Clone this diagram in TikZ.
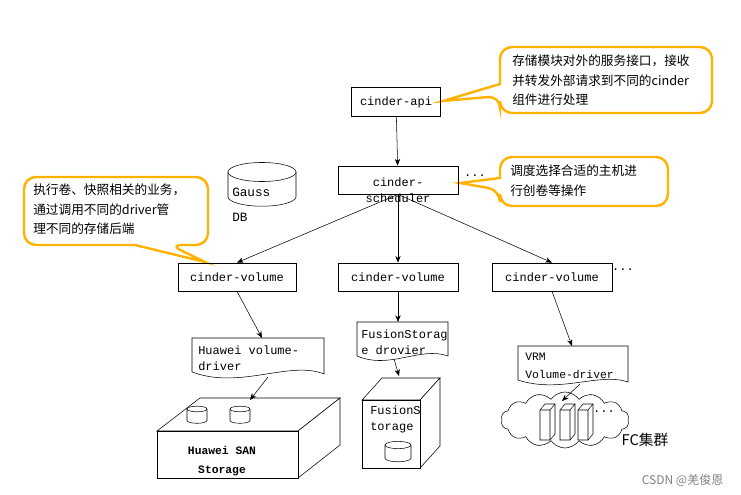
\documentclass[tikz,border=0pt]{standalone}
\usepackage{fontspec}
\setmainfont{Liberation Serif}
\setmonofont{Liberation Mono}
\newfontfamily\cjk{Noto Sans CJK SC}
\usetikzlibrary{shapes.symbols,arrows.meta}
\begin{document}
\begin{tikzpicture}[x=0.75pt,y=-0.75pt,
  font=\ttfamily\fontsize{9}{12}\selectfont,
  box/.style={draw,semithick,minimum width=88.5pt,minimum height=21pt,inner sep=0pt},
  arr/.style={-{Stealth[length=5pt,width=4pt]},thin},
  call/.style={draw=orange!60!yellow,line width=1.8pt,rounded corners=9pt,fill=white},
  ctext/.style={align=left,anchor=north west,inner sep=0pt,font=\cjk\fontsize{9.5}{14.5}\selectfont},
  doc/.style={draw,thin,fill=white},
  pics/db/.style={code={
    \draw[fill=white] (-#1,0) -- (-#1,6+0.55*#1) arc (180:0:#1 and 0.28*#1) -- (#1,0);
    \draw[fill=white] (0,0) ellipse ({#1} and {0.28*#1});}}]
\useasboundingbox (0,0) rectangle (741,495);

% callouts
\draw[call] (500,47) -- (712,47) -- (712,113) -- (500,113) -- (500,96) [sharp corners] -- (443,101) -- (500,84) [rounded corners=9pt] -- cycle;
\node[ctext] (t1) at (512,55) {存储模块对外的服务接口，接收\\并转发外部请求到不同的cinder\\组件进行处理};
\draw[call] (500,157) -- (668,157) -- (668,206) -- (500,206) -- (500,190) [sharp corners] -- (460,183) -- (500,178) [rounded corners=9pt] -- cycle;
\node[ctext] (t2) at (510,165) {调度选择合适的主机进\\行创卷等操作};
\draw[call] (24,177) -- (208,177) -- (208,245) -- (170,245) [sharp corners] -- (205,262) -- (135,245) [rounded corners=9pt] -- (24,245) -- cycle;
\node[ctext] (t3) at (33,184) {执行卷、快照相关的业务，\\通过调用不同的driver管\\理不同的存储后端};

% core boxes
\node[box,minimum width=66.75pt,minimum height=21.75pt] (api) at (396,102) {cinder-api};
\node[box,minimum width=90pt] (sch) at (398,180) {};
\node[align=center,inner sep=0pt] (schl) at (398,190) {cinder-\\scheduler};
\node (dots1) at (475,176) {...};
\node[box] (v1) at (237,277) {cinder-volume};
\node[box,minimum width=90pt] (v2) at (398,277) {cinder-volume};
\node[box,minimum width=90pt] (v3) at (552,277) {cinder-volume};
\node (dots2) at (623,270) {...};

% Gauss DB
\pic (gdb) at (262,172) {db=34};
\node[anchor=west,inner sep=0pt,font=\ttfamily\fontsize{9.5}{19}\selectfont,align=left] (gdbl) at (232,205) {Gauss\\DB};

% drivers (document shapes)
\draw[doc] (192,338) -- (324,338) -- (324,374) .. controls (290,360) and (240,390) .. (192,372) -- cycle;
\node[anchor=north west,align=left,inner sep=0pt] (d1) at (198,346) {Huawei volume-\\driver};
\draw[doc] (357,322) -- (448,322) -- (448,356) .. controls (420,346) and (390,370) .. (357,356) -- cycle;
\node[anchor=north west,align=left,inner sep=0pt] (d2) at (361,330) {FusionStorag\\e drovier};
\draw[doc] (518,346) -- (628,346) -- (628,382) .. controls (600,372) and (560,394) .. (518,380) -- cycle;
\node[anchor=north west,align=left,inner sep=0pt,font=\ttfamily\fontsize{8.5}{13}\selectfont] (d3) at (525,353) {VRM\\Volume-driver};

% Huawei SAN box
\draw[fill=white] (157,431) -- (200,398) -- (340,398) -- (298,431) -- cycle;
\draw[fill=white] (298,431) -- (340,398) -- (340,445) -- (298,478) -- cycle;
\draw[fill=white] (157,431) rectangle (298,478);
\pic (c1) at (197,409) {db=10};
\pic (c2) at (240,409) {db=10};
\node[align=center,font=\ttfamily\bfseries\fontsize{8.5}{14}\selectfont] (san) at (222,461) {Huawei SAN\\Storage};

% FusionStorage cube
\draw[fill=white] (362,400) -- (382,378) -- (440,378) -- (420,400) -- cycle;
\draw[fill=white] (420,400) -- (440,378) -- (440,446) -- (420,468) -- cycle;
\draw[fill=white] (362,400) rectangle (420,468);
\node[align=left,anchor=north west,inner sep=0pt] (fs) at (370,406) {FusionS\\torage};
\pic (c3) at (398,445) {db=13};

% FC cloud
\node[cloud,draw,cloud puffs=14,cloud puff arc=110,aspect=2.6,minimum width=96pt,minimum height=42pt] (cl) at (565,420) {};
\foreach \x/\n in {540/s1,560/s2,578/s3}{
  \draw[fill=white] (\x,410) -- (\x+5,404) -- (\x+15,404) -- (\x+15,434) -- (\x+10,440) -- (\x,440) -- cycle;
  \draw (\x,410) -- (\x+10,410) -- (\x+15,404) (\x+10,410) -- (\x+10,440);}
\node (dots3) at (604,412) {...};
\node[font=\cjk\fontsize{11}{13}\selectfont] (fc) at (645,440) {FC集群};

\node[text=gray,font=\cjk\fontsize{9}{11}\selectfont,anchor=east] (wm) at (728,480) {CSDN @羌俊恩};

% connectors
\draw[arr] (api) -- (sch);
\draw[arr] (sch.south) -- (v1.north);
\draw[arr] (sch.south) -- (v2.north);
\draw[arr] (sch.south) -- (v3.north);
\draw[arr] (v1.south) -- (262,338);
\draw[arr] (v2.south) -- (398,322);
\draw[arr] (v3.south) -- (572,346);
\draw[arr] (268,377) -- (250,400);
\draw[arr] (394,359) -- (399,376);
\draw[arr] (580,384) -- (562,401);
\end{tikzpicture}
\end{document}
